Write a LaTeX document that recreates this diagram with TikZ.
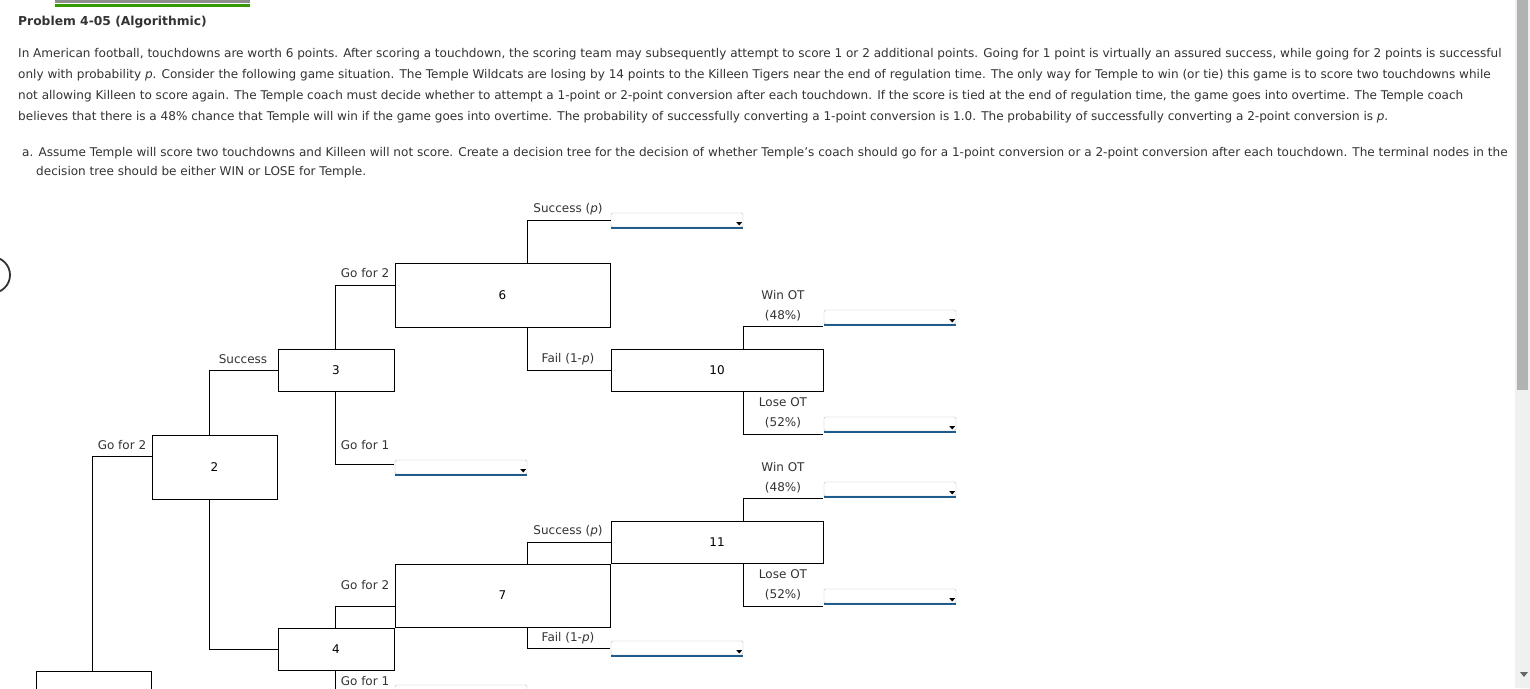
\documentclass[tikz,border=0pt]{standalone}
\usepackage{fontspec}
\setmainfont{DejaVu Sans}
\definecolor{ddblue}{HTML}{1F5C8C}
\begin{document}
\begin{tikzpicture}[x=1pt,y=-1pt,
  txt/.style={inner sep=0pt,anchor=west,text=black!80,font=\fontsize{12.05}{13}\selectfont},
  lbl/.style={inner sep=0pt,text=black!80,font=\fontsize{12}{13}\selectfont},
  tbox/.style={draw,line width=0.9pt,inner sep=0pt},
  br/.style={line width=0.9pt},
  dd/.style={draw=black!25,rounded corners=1.5pt,fill=white,minimum width=132pt,minimum height=14pt,inner sep=0pt}]
\useasboundingbox (0,0) rectangle (1530,688);
\fill[white] (0,0) rectangle (1530,688);
% top bars
\fill[black!45] (55,0) rectangle (250,2.5);
\fill[green!50!black!80!yellow] (55,3.5) rectangle (250,7);
\draw[line width=1.8pt,black!80] (-8,275) circle (18);
% scrollbar
\fill[black!6] (1515,0) rectangle (1530,688);
\fill[black!30] (1517,0) rectangle (1528,390);
\fill[black!60] (1520,672) -- (1528,672) -- (1524,677) -- cycle;
% text
\node[txt,font=\bfseries\fontsize{12.3}{13}\selectfont] (title) at (18,22) {Problem 4-05 (Algorithmic)};
\node[txt] (l1) at (18,54) {In American football, touchdowns are worth 6 points. After scoring a touchdown, the scoring team may subsequently attempt to score 1 or 2 additional points. Going for 1 point is virtually an assured success, while going for 2 points is successful};
\node[txt] (l2) at (18,75) {only with probability \textit{p}. Consider the following game situation. The Temple Wildcats are losing by 14 points to the Killeen Tigers near the end of regulation time. The only way for Temple to win (or tie) this game is to score two touchdowns while};
\node[txt] (l3) at (18,96) {not allowing Killeen to score again. The Temple coach must decide whether to attempt a 1-point or 2-point conversion after each touchdown. If the score is tied at the end of regulation time, the game goes into overtime. The Temple coach};
\node[txt] (l4) at (18,117) {believes that there is a 48\% chance that Temple will win if the game goes into overtime. The probability of successfully converting a 1-point conversion is 1.0. The probability of successfully converting a 2-point conversion is \textit{p}.};
\node[txt] (a1) at (22,153) {a. Assume Temple will score two touchdowns and Killeen will not score. Create a decision tree for the decision of whether Temple's coach should go for a 1-point conversion or a 2-point conversion after each touchdown. The terminal nodes in the};
\node[txt] (a2) at (36,172) {decision tree should be either WIN or LOSE for Temple.};
% boxes
\node[tbox,minimum width=125pt,minimum height=64pt] (b2) at (214.5,467) {\fontsize{12}{13}\selectfont 2};
\node[tbox,minimum width=116pt,minimum height=42pt] (b3) at (336,370) {\fontsize{12}{13}\selectfont 3};
\node[tbox,minimum width=116pt,minimum height=42pt] (b4) at (336,649) {\fontsize{12}{13}\selectfont 4};
\node[tbox,minimum width=215pt,minimum height=64pt] (b6) at (502.5,295) {\fontsize{12}{13}\selectfont 6};
\node[tbox,minimum width=215pt,minimum height=63pt] (b7) at (502.5,595.5) {\fontsize{12}{13}\selectfont 7};
\node[tbox,minimum width=212pt,minimum height=42pt] (b10) at (717,370) {\fontsize{12}{13}\selectfont 10};
\node[tbox,minimum width=212pt,minimum height=42pt] (b11) at (717,542) {\fontsize{12}{13}\selectfont 11};
\draw[line width=0.9pt] (36,700) |- (151,671) -- (151,700);
% dropdowns
\foreach \n/\x/\y in {d1/677/220, d2/461/467, d3/890/317, d4/890/424, d5/890/489, d6/890/596, d7/677/648, d8/461/692}{
  \node[dd] (\n) at (\x,\y) {};
  \draw[line width=1.6pt,ddblue] ([yshift=-0.8pt]\n.south west) -- ([yshift=-0.8pt]\n.south east);
  \fill[black] ([xshift=-7pt,yshift=-2pt]\n.east) -- ++(6,0) -- ++(-3,3.5) -- cycle;
}
% coordinates for branch ends
\coordinate (e0) at (92,456);
\coordinate (e1) at (209,370);
\coordinate (e2) at (209,649);
\coordinate (e3) at (335,285);
\coordinate (e4) at (335,464);
\coordinate (e5) at (527,220);
\coordinate (e6) at (527,370);
\coordinate (e7) at (743,326);
\coordinate (e8) at (743,434);
\coordinate (e9) at (335,606);
\coordinate (e10) at (527,542);
\coordinate (e11) at (527,648);
\coordinate (e12) at (743,498);
\coordinate (e13) at (743,606);
\coordinate (e14) at (335,700);
% branches
\draw[br] (92,671) -- (e0) -- (b2.west |- e0);
\draw[br] (b2.north -| e1) -- (e1) -- (b3.west |- e1);
\draw[br] (b2.south -| e2) -- (e2) -- (b4.west |- e2);
\draw[br] (b3.north -| e3) -- (e3) -- (b6.west |- e3);
\draw[br] (b3.south -| e4) -- (e4) -- (b3.east |- e4);
\draw[br] (b6.north -| e5) -- (e5) -- (d1.west |- e5);
\draw[br] (b6.south -| e6) -- (e6) -- (b10.west |- e6);
\draw[br] (b10.north -| e7) -- (e7) -- (b10.east |- e7);
\draw[br] (b10.south -| e8) -- (e8) -- (b10.east |- e8);
\draw[br] (b4.north -| e9) -- (e9) -- (b7.west |- e9);
\draw[br] (b4.south -| e14) -- (e14);
\draw[br] (b7.north -| e10) -- (e10) -- (b11.west |- e10);
\draw[br] (b7.south -| e11) -- (e11) -- (b7.east |- e11);
\draw[br] (b11.north -| e12) -- (e12) -- (b11.east |- e12);
\draw[br] (b11.south -| e13) -- (e13) -- (b11.east |- e13);
% labels
\node[lbl] (t1) at (122,445) {Go for 2};
\node[lbl] (t2) at (243,359) {Success};
\node[lbl] (t3) at (365,273) {Go for 2};
\node[lbl] (t4) at (365,445) {Go for 1};
\node[lbl] (t5) at (365,585) {Go for 2};
\node[lbl] (t6) at (365,681) {Go for 1};
\node[lbl] (t7) at (568,209) {Success (\textit{p})};
\node[lbl] (t8) at (568,359) {Fail (1-\textit{p})};
\node[lbl] (t9) at (568,531) {Success (\textit{p})};
\node[lbl] (t10) at (568,638) {Fail (1-\textit{p})};
\node[lbl] (w1) at (783,295) {Win OT};
\node[lbl] (w2) at (783,316) {(48\%)};
\node[lbl] (w3) at (783,402) {Lose OT};
\node[lbl] (w4) at (783,423) {(52\%)};
\node[lbl] (w5) at (783,467) {Win OT};
\node[lbl] (w6) at (783,488) {(48\%)};
\node[lbl] (w7) at (783,574) {Lose OT};
\node[lbl] (w8) at (783,595) {(52\%)};
\end{tikzpicture}
\end{document}
